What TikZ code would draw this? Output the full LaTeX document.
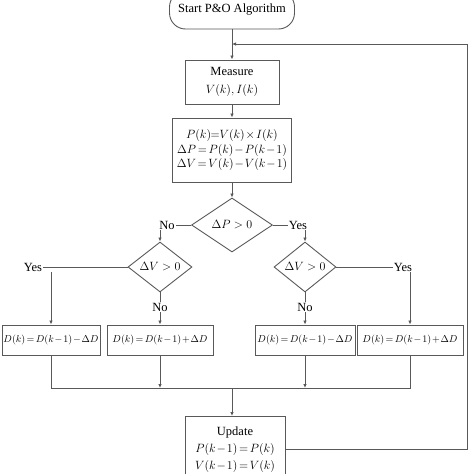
\documentclass[tikz,border=0pt]{standalone}
\usepackage{amsmath}
\usepackage{fontspec}
\setmainfont{Liberation Serif}
\usetikzlibrary{shapes.geometric,positioning,arrows.meta}

\newcommand{\tightmath}{\medmuskip=1.5mu\thickmuskip=2.5mu\relax}

\begin{document}
\begin{tikzpicture}[x=1pt,y=-1pt]
 	\tikzstyle{box}=[rectangle, draw=black!65, line width=0.9pt, inner sep=0pt, align=center, font=\fontsize{12.5}{14.5}\selectfont\tightmath]
 	\tikzstyle{dbox}=[box, minimum height=30pt, font=\fontsize{10.2}{12}\selectfont\tightmath]
 	\tikzstyle{test}=[diamond, draw=black!65, line width=0.9pt, inner sep=0pt, font=\fontsize{12.5}{14.5}\selectfont]
 	\tikzstyle{word}=[inner sep=1pt, font=\fontsize{12.5}{14.5}\selectfont]
 	\tikzstyle{connect}=[-{Latex[length=4pt,width=3.5pt]}, draw=black!65, line width=0.9pt]
 	\tikzstyle{line}=[draw=black!65, line width=0.9pt]
 	\useasboundingbox (0,0) rectangle (474,474);
 	\clip (0,0) rectangle (474,474);
 	\node[box, rounded corners=16pt, minimum width=125pt, minimum height=38pt] (start) at (232,10) {Start P\&O Algorithm};
 	\node[box, minimum width=94pt, minimum height=44pt] (measure) at (232,82) {Measure\\[4pt] $V(k),I(k)$};
 	\node[box, minimum width=119pt, minimum height=64pt] (calc) at (232,150) {$P(k)\!=\!V(k)\times I(k)$\\ $\Delta P=P(k)-P(k-1)$\\ $\Delta V=V(k)-V(k-1)$};
 	\node[test, minimum width=81pt, minimum height=54pt] (dp) at (232,225) {$\Delta P>0$};
 	\node[test, minimum width=64pt, minimum height=50pt] (dvl) at (160,267) {$\Delta V>0$};
 	\node[test, minimum width=62pt, minimum height=50pt] (dvr) at (305,267) {$\Delta V>0$};
 	\node[word] (no1) at (167,225) {No};
 	\node[word] (yes1) at (298,225) {Yes};
 	\node[word] (yesl) at (33,267) {Yes};
 	\node[word] (yesr) at (403,267) {Yes};
 	\node[word] (nol) at (160,307) {No};
 	\node[word] (nor) at (305,307) {No};
 	\node[dbox, minimum width=98pt] (dl1) at (51,340) {$D(k)=D(k-1)-\Delta D$};
 	\node[dbox, minimum width=106pt] (dl2) at (160,340) {$D(k)=D(k-1)+\Delta D$};
 	\node[dbox, minimum width=100pt] (dr1) at (305,340) {$D(k)=D(k-1)-\Delta D$};
 	\node[dbox, minimum width=106pt] (dr2) at (410,340) {$D(k)=D(k-1)+\Delta D$};
 	\node[box, minimum width=100pt, minimum height=66pt, anchor=north] (update) at (235,416) {Update\\[3pt] $P(k-1)=P(k)$\\[2pt] $V(k-1)=V(k)$};
 	\coordinate (merge) at (232,388);
 	\coordinate (loop) at (467,44);
 	\coordinate (join) at (232,44);
 	\draw[connect] (start) -- (measure);
 	\draw[connect] (measure) -- (calc);
 	\draw[connect] (calc) -- (dp);
 	\draw[line] (dp.west) -- (no1.east);
 	\draw[line] (dp.east) -- (yes1.west);
 	\draw[connect] (no1.south -| dvl.north) -- (dvl.north);
 	\draw[connect] (yes1.south -| dvr.north) -- (dvr.north);
 	\draw[line] (dvl.west) -- (yesl.east);
 	\draw[line] (dvr.east) -- (yesr.west);
 	\draw[connect] (yesl.south -| dl1.north) -- (dl1.north);
 	\draw[connect] (yesr.south -| dr2.north) -- (dr2.north);
 	\draw[line] (dvl.south) -- (nol.north);
 	\draw[connect] (nol.south) -- (dl2.north);
 	\draw[line] (dvr.south) -- (nor.north);
 	\draw[connect] (nor.south) -- (dr1.north);
 	\draw[line] (dl1.south) -- (dl1.south |- merge) -- (dr2.south |- merge) -- (dr2.south);
 	\draw[connect] (dl2.south) -- (dl2.south |- merge);
 	\draw[connect] (dr1.south) -- (dr1.south |- merge);
 	\draw[connect] (merge) -- (merge |- update.north);
 	\draw[connect] (update.east) -| (loop) -- (join);
\end{tikzpicture}
\end{document}
